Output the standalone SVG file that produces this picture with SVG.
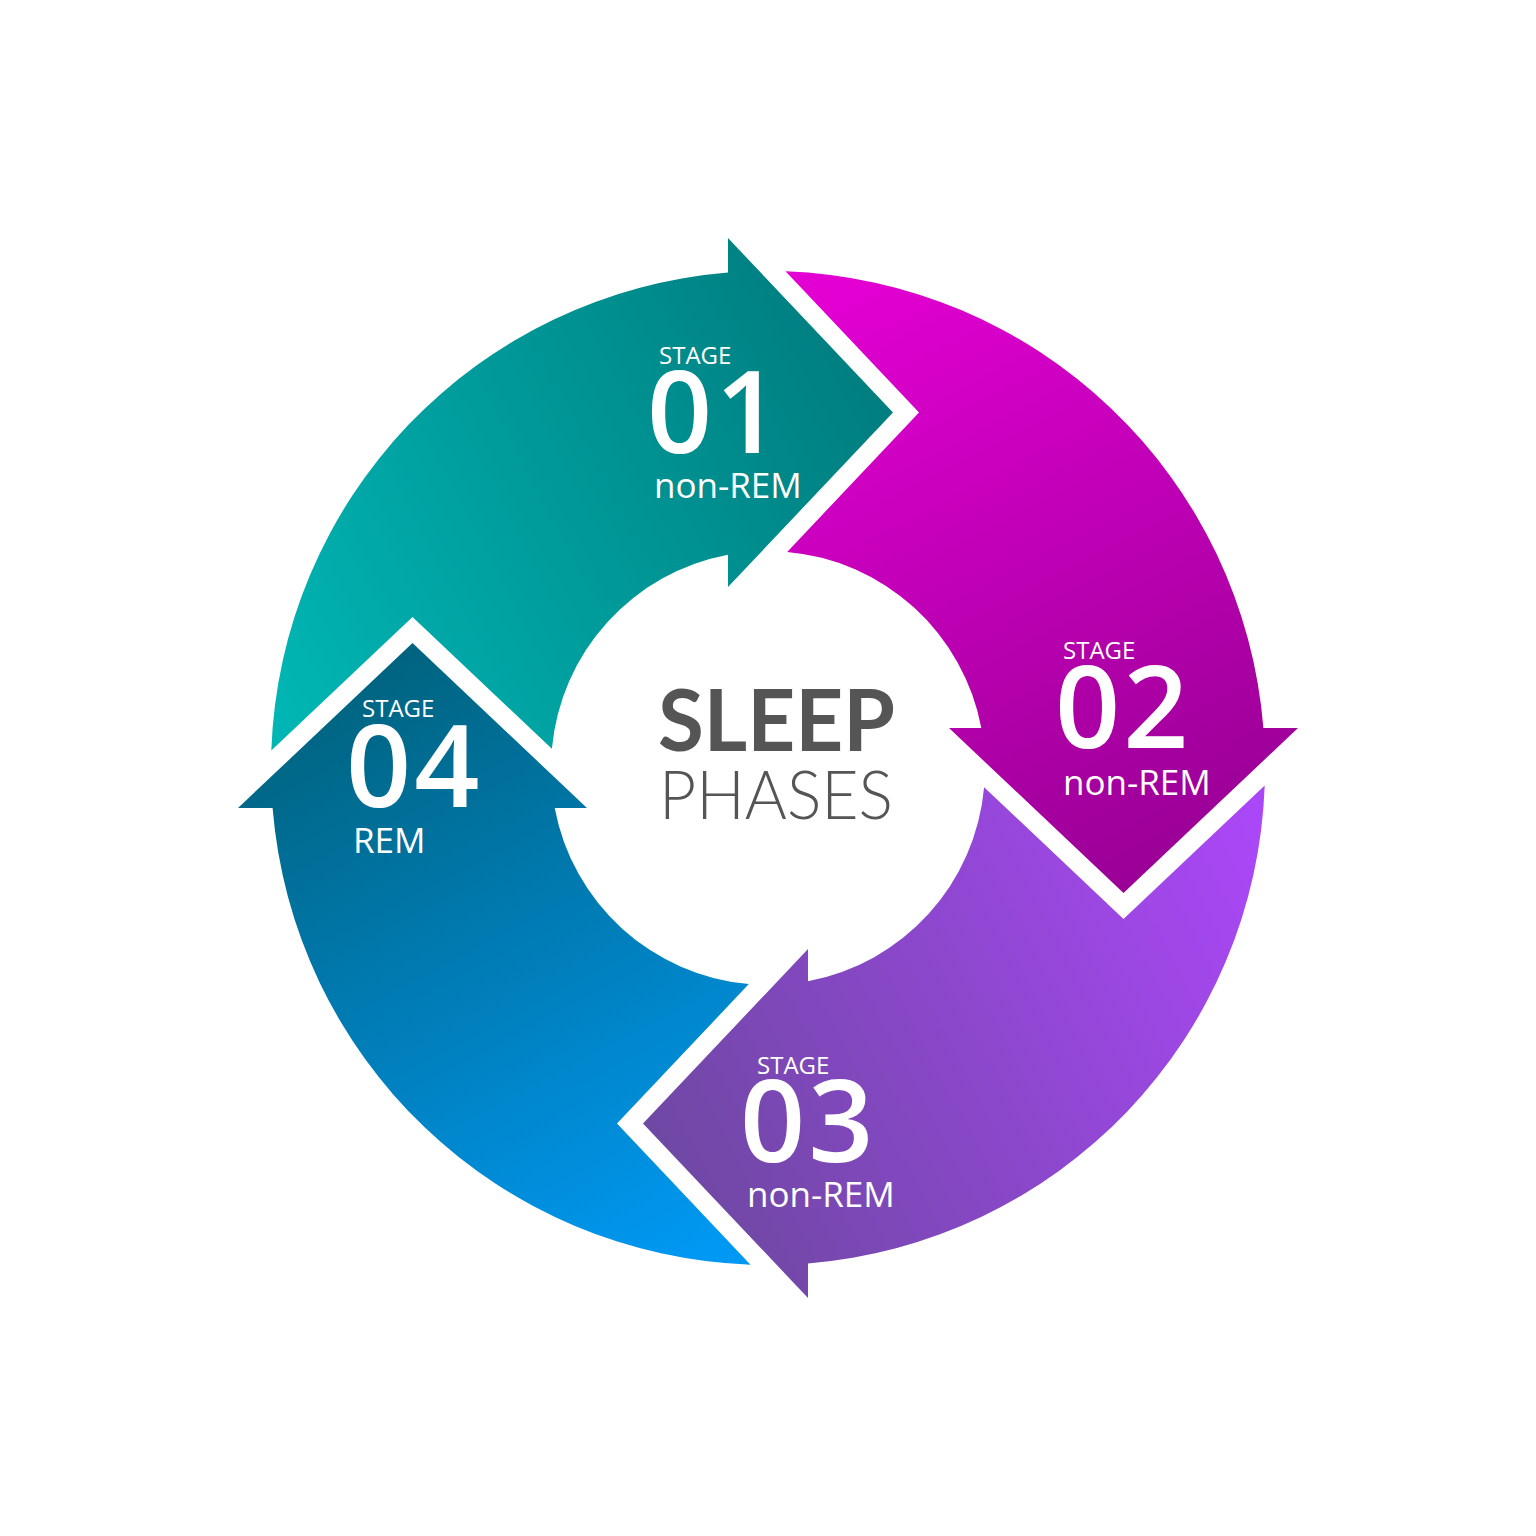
<svg xmlns="http://www.w3.org/2000/svg" width="1536" height="1536" viewBox="0 0 1536 1536">
  <defs>
    <path id="seg" d="M 271.3 750.5 A 497 497 0 0 1 728 272.6 L 728 238 L 893 412.5 L 728 587 L 728 554.7 A 217 217 0 0 0 551.9 748.8 L 412.5 617 Z"/>
    <linearGradient id="gTeal" gradientUnits="userSpaceOnUse" x1="290" y1="710" x2="880" y2="400">
      <stop offset="0" stop-color="#00B5B3"/>
      <stop offset="1" stop-color="#007E80"/>
    </linearGradient>
    <linearGradient id="gMag" gradientUnits="userSpaceOnUse" x1="290" y1="710" x2="880" y2="400">
      <stop offset="0" stop-color="#E300D3"/>
      <stop offset="1" stop-color="#9A0096"/>
    </linearGradient>
    <linearGradient id="gPur" gradientUnits="userSpaceOnUse" x1="290" y1="710" x2="880" y2="400">
      <stop offset="0" stop-color="#AA47F6"/>
      <stop offset="1" stop-color="#6F48A4"/>
    </linearGradient>
    <linearGradient id="gBlue" gradientUnits="userSpaceOnUse" x1="290" y1="710" x2="880" y2="400">
      <stop offset="0" stop-color="#0098F2"/>
      <stop offset="1" stop-color="#006480"/>
    </linearGradient>
  </defs>
  <style>
    .lbl { font-family: "Open Sans", "Noto Sans", "DejaVu Sans", sans-serif; fill: #FFFFFF; }
    .stage { font-size: 24px; }
    .num { font-size: 114px; font-weight: 600; letter-spacing: 3px; }
    .kind { font-size: 35px; }
    .title { font-family: Lato, "Open Sans", sans-serif; fill: #555555; }
  </style>
  <rect width="1536" height="1536" fill="#FFFFFF"/>

  <g id="stage1">
    <use href="#seg" fill="url(#gTeal)"/>
    <text class="lbl stage" x="659" y="364">STAGE</text>
    <text class="lbl num" x="647" y="453">01</text>
    <text class="lbl kind" x="654" y="498">non-REM</text>
  </g>

  <g id="stage2">
    <use href="#seg" fill="url(#gMag)" transform="rotate(90 768 768)"/>
    <text class="lbl stage" x="1063" y="659">STAGE</text>
    <text class="lbl num" x="1055" y="748">02</text>
    <text class="lbl kind" x="1063" y="795">non-REM</text>
  </g>

  <g id="stage3">
    <use href="#seg" fill="url(#gPur)" transform="rotate(180 768 768)"/>
    <text class="lbl stage" x="757" y="1074">STAGE</text>
    <text class="lbl num" x="740" y="1162">03</text>
    <text class="lbl kind" x="747" y="1207">non-REM</text>
  </g>

  <g id="stage4">
    <use href="#seg" fill="url(#gBlue)" transform="rotate(270 768 768)"/>
    <text class="lbl stage" x="362" y="717">STAGE</text>
    <text class="lbl num" x="346" y="807">04</text>
    <text class="lbl kind" x="353" y="853">REM</text>
  </g>

  <g id="center">
    <text class="title" x="658" y="751" font-size="86" font-weight="700" textLength="237" lengthAdjust="spacingAndGlyphs">SLEEP</text>
    <text class="title" x="659" y="819" font-size="67" font-weight="300" textLength="234" lengthAdjust="spacingAndGlyphs">PHASES</text>
  </g>
  <g id="connectors"/>
</svg>
